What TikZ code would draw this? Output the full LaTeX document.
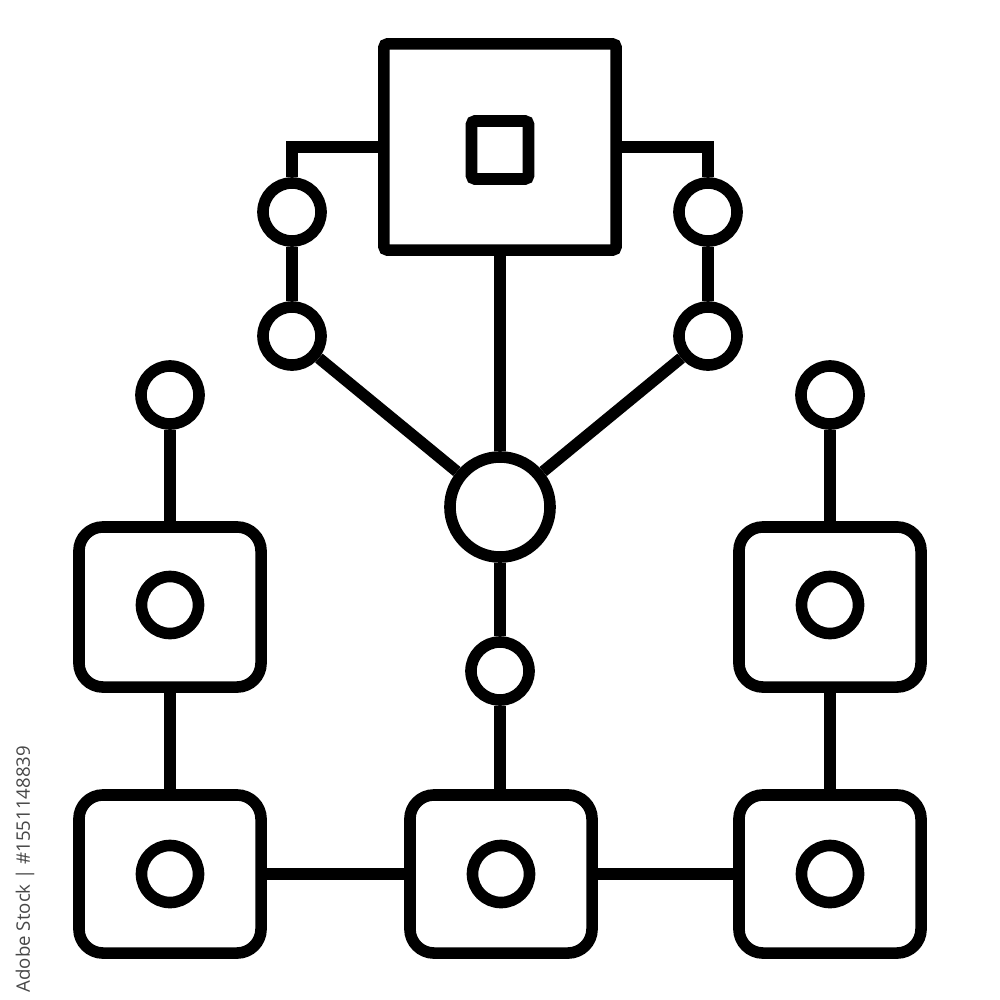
\documentclass[tikz,border=0pt]{standalone}
\usepackage{fontspec}
\newfontfamily\wmfont{Open Sans}
\begin{document}
\begin{tikzpicture}[x=0.01cm,y=-0.01cm,line width=3.3pt,
  smalldot/.style={circle,draw,inner sep=0pt,minimum size=0.58cm},
  bigdot/.style={circle,draw,inner sep=0pt,minimum size=1.0cm},
  cell/.style={draw,rectangle,rounded corners=0.24cm,minimum width=1.82cm,inner sep=0pt},
  upcell/.style={cell,minimum height=1.60cm},
  lowcell/.style={cell,minimum height=1.58cm},
  sidetext/.style={text=black!72,inner sep=0pt,font=\wmfont\fontsize{5.3}{6}\selectfont}]
\useasboundingbox (0,0) rectangle (1000,1000);
% top box
\node[draw,rectangle,rounded corners=1pt,minimum width=2.32cm,minimum height=2.06cm,inner sep=0pt] (top) at (500,147) {};
\node[draw,rectangle,rounded corners=1pt,minimum width=0.57cm,minimum height=0.58cm,inner sep=0pt] (core) at (500,150) {};
% side circles
\node[smalldot] (l1) at (292,212) {};
\node[smalldot] (l2) at (292,336) {};
\node[smalldot] (r1) at (708,212) {};
\node[smalldot] (r2) at (708,336) {};
% hub
\node[bigdot] (hub) at (500,507) {};
\node[smalldot] (m) at (500,671) {};
% left and right columns
\node[smalldot] (lt) at (170,395) {};
\node[smalldot] (rt) at (830,395) {};
\node[upcell] (lup) at (170,607) {};
\node[upcell] (rup) at (830,607) {};
\node[lowcell] (llow) at (170,874) {};
\node[lowcell] (mlow) at (501,874) {};
\node[lowcell] (rlow) at (830,874) {};
% inner circles
\node[smalldot,minimum size=0.57cm] (lupc) at (170,605) {};
\node[smalldot,minimum size=0.57cm] (rupc) at (830,605) {};
\node[smalldot,minimum size=0.57cm] (llowc) at (170,874) {};
\node[smalldot,minimum size=0.57cm] (mlowc) at (501,874) {};
\node[smalldot,minimum size=0.57cm] (rlowc) at (830,874) {};
% connectors
\draw (top.west) -- (top.west -| l1) -- (l1);
\draw (top.east) -- (top.east -| r1) -- (r1);
\draw (l1) -- (l2);
\draw (r1) -- (r2);
\draw (l2) -- (hub);
\draw (r2) -- (hub);
\draw (top.south) -- (hub);
\draw (hub) -- (m);
\draw (m) -- (m |- mlow.north);
\draw (lt) -- (lt |- lup.north);
\draw (rt) -- (rt |- rup.north);
\draw (lup) -- (llow);
\draw (rup) -- (rlow);
\draw (llow) -- (mlow);
\draw (mlow) -- (rlow);
% side text
\node[sidetext,rotate=90] (wm) at (25,869) {Adobe Stock | \#1551148839};
\end{tikzpicture}
\end{document}
